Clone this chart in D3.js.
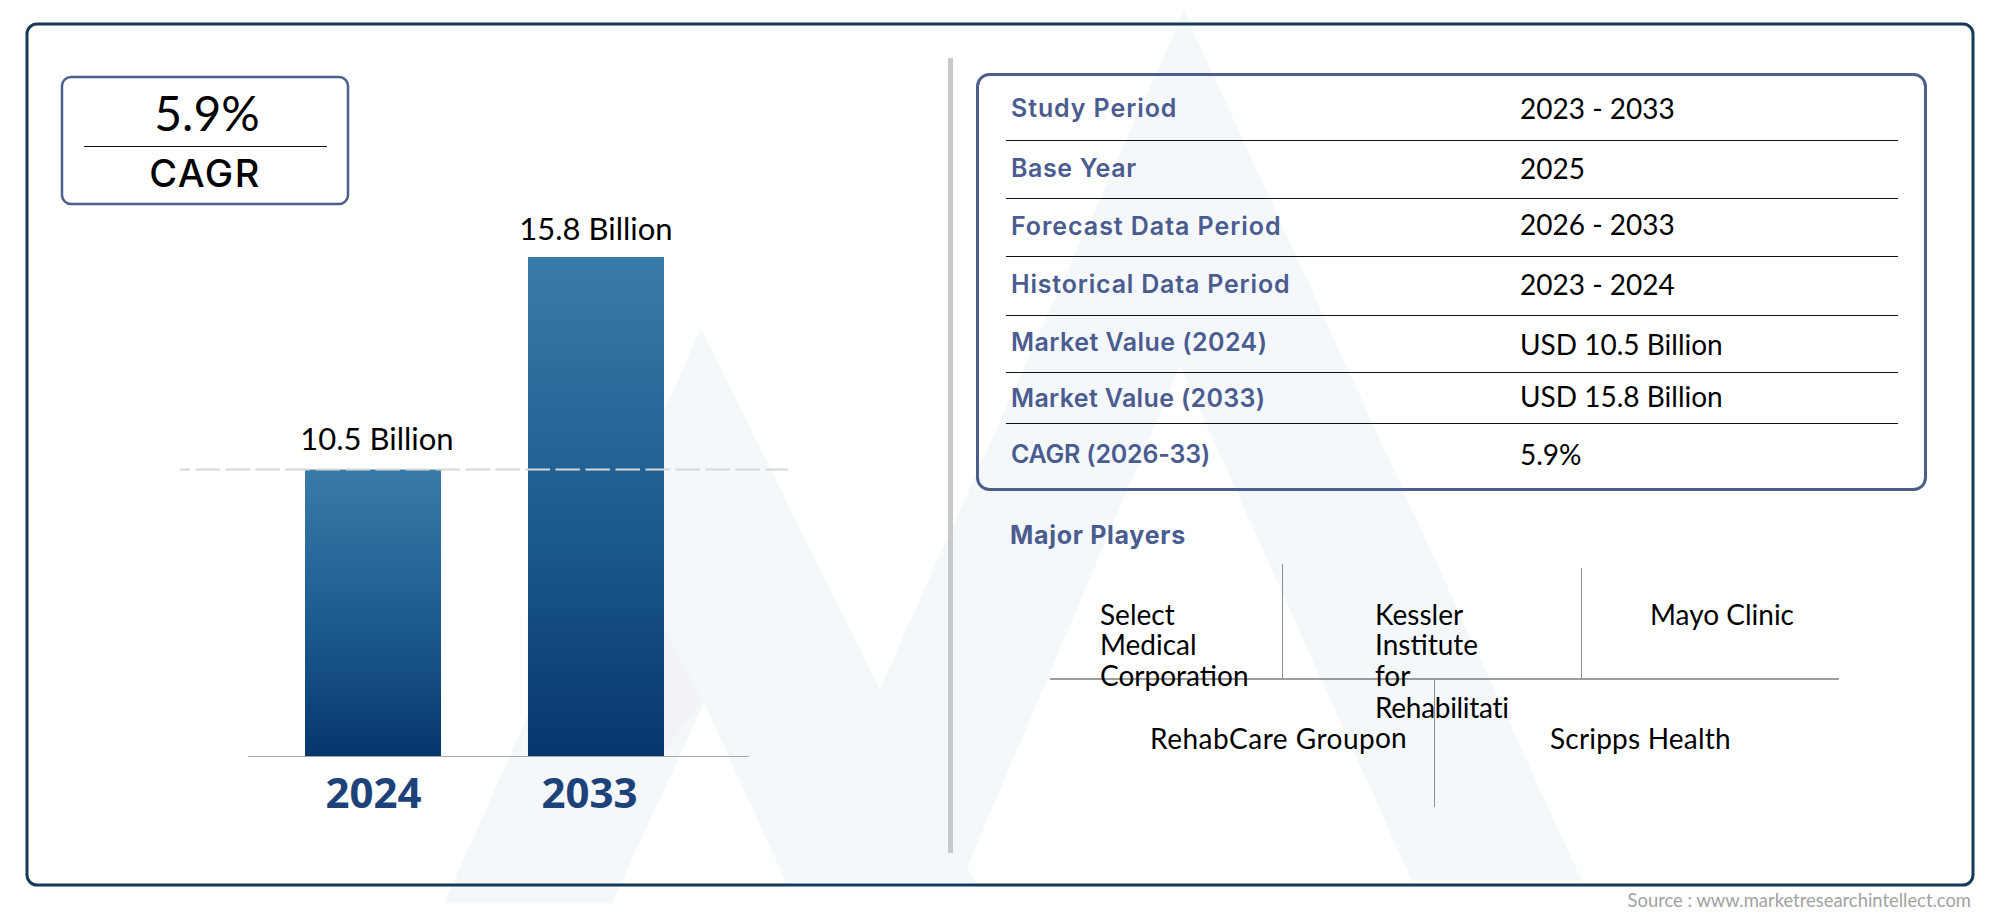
<!DOCTYPE html>
<html><head><meta charset="utf-8">
<script src="https://cdn.jsdelivr.net/npm/d3@7/dist/d3.min.js"></script>
<style>html,body{margin:0;padding:0;background:#fff}svg{display:block}</style>
</head><body><svg id="c" width="2000" height="917"></svg>
<script>
// ---- data ----
const years = ["2024", "2033"];
const marketValues = [10.5, 15.8];
const valueLabels = ["10.5 Billion", "15.8 Billion"];
const cagrValue = "5.9%";
const cagrLabel = "CAGR";
const rowLabels = ["Study Period","Base Year","Forecast Data Period","Historical Data Period","Market Value (2024)","Market Value (2033)","CAGR (2026-33)"];
const rowValues = ["2023 - 2033","2025","2026 - 2033","2023 - 2024","USD 10.5 Billion","USD 15.8 Billion","5.9%"];
const playersTitle = "Major Players";
const playerLinesTop = [["Select","Medical","Corporation"],["Kessler","Institute","for","Rehabilitati","on"],["Mayo Clinic"]];
const playerLinesBottom = [["RehabCare Group"],["Scripps Health"]];
const sourceText = "Source : www.marketresearchintellect.com";

// ---- layout ----
const BODY = "Lato, sans-serif", HEAD = "Inter, sans-serif";
const svg = d3.select("#c");
const defs = svg.append("defs");
const grad = defs.append("linearGradient").attr("id","barGrad").attr("x1",0).attr("x2",0).attr("y1",0).attr("y2",1);
grad.append("stop").attr("offset","0%").attr("stop-color","#397ba7");
grad.append("stop").attr("offset","55%").attr("stop-color","#1c5a8e");
grad.append("stop").attr("offset","100%").attr("stop-color","#06366e");

// watermark
const wm = svg.append("g");
const wmPolys = [
  [[701,328],[444,903],[612,903],[704,703],[786,882],[975,882],[701,328]],
  [[1184,11],[793,882],[961,882],[1180,366],[1412,881],[1582,881]],
];
wm.selectAll("path.w").data(wmPolys).join("path").attr("class","w")
  .attr("d",d=>d3.line()(d)+"Z").attr("fill","#f5f8fb");
wm.append("path").attr("d",d3.line()([[663,627],[702,700],[663,753]])+"Z").attr("fill","#f1f3f7");

// frames
svg.append("rect").attr("x",27).attr("y",24).attr("width",1946).attr("height",861).attr("rx",10)
  .attr("fill","none").attr("stroke","#173a56").attr("stroke-width",3);
svg.append("rect").attr("x",62).attr("y",77).attr("width",286).attr("height",127).attr("rx",9)
  .attr("fill","none").attr("stroke","#4c5f8c").attr("stroke-width",2.5);
svg.append("line").attr("x1",84).attr("x2",327).attr("y1",146.5).attr("y2",146.5).attr("stroke","#111").attr("stroke-width",1);
svg.append("text").attr("x",207).attr("y",131).attr("text-anchor","middle").attr("font-family",BODY)
  .attr("font-size",48).attr("fill","#000").text(cagrValue);
svg.append("text").attr("x",205).attr("y",187).attr("text-anchor","middle").attr("font-family",HEAD)
  .attr("font-weight",500).attr("font-size",38).attr("letter-spacing",1.5).attr("fill","#000").text(cagrLabel);

// bars
const x = d3.scaleBand().domain(years).range([305,664]).paddingInner(0.39).paddingOuter(0);
const y = d3.scaleLinear().domain([3.356,15.8]).range([756,257]);
svg.selectAll("rect.bar").data(marketValues).join("rect").attr("class","bar")
  .attr("x",(d,i)=>x(years[i])).attr("width",x.bandwidth())
  .attr("y",d=>y(d)).attr("height",d=>y(y.domain()[0])-y(d)).attr("fill","url(#barGrad)");
svg.append("line").attr("x1",248).attr("x2",749).attr("y1",756.5).attr("y2",756.5).attr("stroke","#a8a8ac").attr("stroke-width",1.2);
svg.append("line").attr("x1",180).attr("x2",788).attr("y1",y(marketValues[0])).attr("y2",y(marketValues[0]))
  .attr("stroke","#d6d6d6").attr("stroke-width",2).attr("stroke-dasharray","24.5,5.5").attr("stroke-dashoffset",14.5);

const vx = d3.scalePoint().domain(years).range([377,596]);
const valueGap = [19.5,17];
svg.selectAll("text.val").data(marketValues).join("text").attr("class","val")
  .attr("x",(d,i)=>vx(years[i])).attr("y",(d,i)=>y(d)-valueGap[i]).attr("text-anchor","middle")
  .attr("font-family",BODY).attr("font-size",31).attr("fill","#000").text((d,i)=>valueLabels[i]);

const lx = d3.scalePoint().domain(years).range([373,589]);
const ax = svg.append("g").attr("transform","translate(0,756)").call(d3.axisBottom(lx).tickSize(0).tickPadding(0));
ax.select(".domain").remove();
ax.selectAll("text").attr("dy",0).attr("y",52).attr("font-family","'Open Sans', sans-serif")
  .attr("font-weight",700).attr("font-size",42).attr("fill","#1d4279");

// divider
svg.append("rect").attr("x",948).attr("y",58).attr("width",5).attr("height",795).attr("fill","#c9c9c9");

// table
svg.append("rect").attr("x",977.5).attr("y",74.5).attr("width",948).attr("height",415).attr("rx",12)
  .attr("fill","none").attr("stroke","#4c5f8c").attr("stroke-width",3);
const ruleY = [140,198,256,315,372,423];
svg.selectAll("line.rule").data(ruleY).join("line").attr("class","rule")
  .attr("x1",1006).attr("x2",1898).attr("y1",d=>d+.5).attr("y2",d=>d+.5).attr("stroke","#111").attr("stroke-width",1);
const labelBase = [117,177,235,293,351,407,463];
const valueBase = [119,179,235,295,355,407,465];
const labelSpacing = [0.9,0.6,0.95,0.8,0.45,0.35,-0.2];
svg.selectAll("text.rl").data(rowLabels).join("text").attr("class","rl")
  .attr("x",1011).attr("y",(d,i)=>labelBase[i]).attr("font-family",HEAD).attr("font-weight",600)
  .attr("font-size",25).attr("letter-spacing",(d,i)=>labelSpacing[i]).attr("fill","#4a5c90").text(d=>d);
svg.selectAll("text.rv").data(rowValues).join("text").attr("class","rv")
  .attr("x",1520).attr("y",(d,i)=>valueBase[i]).attr("font-family",BODY)
  .attr("font-size",28).attr("fill","#000").text(d=>d);

// players
svg.append("text").attr("x",1010).attr("y",544).attr("font-family",HEAD).attr("font-weight",700)
  .attr("font-size",25).attr("letter-spacing",0.7).attr("fill","#4a5c90").text(playersTitle);
const pl = svg.append("g").attr("stroke","#8f8f8f").attr("stroke-width",1);
pl.append("line").attr("x1",1050).attr("x2",1839).attr("y1",679).attr("y2",679).attr("stroke-width",1.5).attr("stroke","#7d7d7d");
pl.append("line").attr("x1",1282.5).attr("x2",1282.5).attr("y1",564).attr("y2",678);
pl.append("line").attr("x1",1581.5).attr("x2",1581.5).attr("y1",568).attr("y2",678);
pl.append("line").attr("x1",1434.5).attr("x2",1434.5).attr("y1",680).attr("y2",807);
const topX = [1100,1375,1650], bottomX = [1150,1550], lineBase = [625,655,686,718,748];
const bottomSpacing = [0.5,0.2];
const pt = svg.append("g").attr("font-family",BODY).attr("font-size",28).attr("fill","#000");
playerLinesTop.forEach((lines,i)=>lines.forEach((t,j)=>pt.append("text").attr("x",topX[i]).attr("y",lineBase[j]).attr("letter-spacing",j===3?-0.3:0).text(t)));
playerLinesBottom.forEach((lines,i)=>lines.forEach(t=>pt.append("text").attr("x",bottomX[i]).attr("y",749).attr("letter-spacing",bottomSpacing[i]).text(t)));

svg.append("text").attr("x",1971).attr("y",907).attr("text-anchor","end").attr("font-family",BODY)
  .attr("font-size",18.4).attr("fill","#a2a2a2").text(sourceText);
</script></body></html>
